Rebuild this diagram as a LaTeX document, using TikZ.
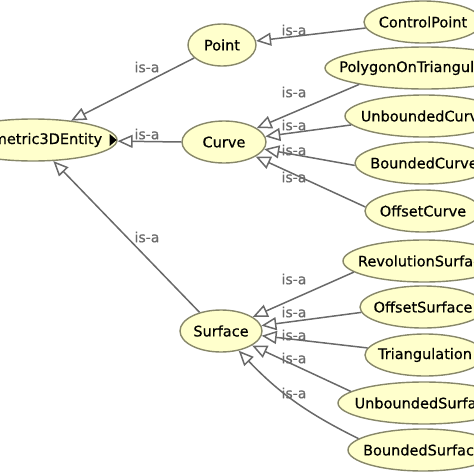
\documentclass[tikz,border=0pt]{standalone}
\usepackage{fontspec}
\setmainfont[FakeBold=0.6]{DejaVu Sans}
\usetikzlibrary{arrows.meta, shapes.geometric}
\definecolor{clsfill}{RGB}{255,255,204}
\definecolor{clsline}{RGB}{135,135,105}
\definecolor{edgegray}{RGB}{105,105,105}
\newcommand{\cname}[1]{\makebox[0pt]{#1}}

\begin{document}
\begin{tikzpicture}[x=1pt, y=-1pt,
    cls/.style={ellipse, draw=clsline, fill=clsfill, line width=1.4pt, inner sep=0pt, minimum height=42pt, minimum width=#1, font=\fontsize{14.5}{16}\selectfont},
    isa/.style={draw=edgegray, line width=1.5pt, -{Triangle[length=15pt, width=13pt, fill=white]}},
    lab/.style={font=\fontsize{14}{16}\selectfont, text=edgegray, inner sep=0pt}
]
    \useasboundingbox (0,0) rectangle (474,474);
    \clip (0,0) rectangle (474,474);

    % Root and first level
    \node[cls=168pt] (geo) at (33,140) {\cname{Geometric3DEntity}};
    \node[cls=68pt] (point) at (222,45) {\cname{Point}};
    \node[cls=84pt] (curve) at (224,142) {\cname{Curve}};
    \node[cls=82pt] (surface) at (221,331) {\cname{Surface}};
    \fill ([xshift=-1pt]geo.east) -- ++(-7,-6) -- ++(0,12) -- cycle;

    % Subclasses of Point and Curve
    \node[cls=118pt] (ctrlpt) at (423,22) {\cname{ControlPoint}};
    \node[cls=200pt] (polytri) at (425,68) {\cname{PolygonOnTriangulation}};
    \node[cls=158pt] (unbcurve) at (424,116) {\cname{UnboundedCurve}};
    \node[cls=138pt] (bndcurve) at (424,163) {\cname{BoundedCurve}};
    \node[cls=116pt] (offcurve) at (423,211) {\cname{OffsetCurve}};

    % Subclasses of Surface
    \node[cls=162pt] (revsurf) at (424,261) {\cname{RevolutionSurface}};
    \node[cls=126pt] (offsurf) at (423,307) {\cname{OffsetSurface}};
    \node[cls=120pt] (triang) at (425,355) {\cname{Triangulation}};
    \node[cls=172pt] (unbsurf) at (424,403) {\cname{UnboundedSurface}};
    \node[cls=150pt] (bndsurf) at (423,450) {\cname{BoundedSurface}};

    % is-a edges
    \draw[isa] (point.205) -- (geo);
    \draw[isa] (curve.west) -- (geo);
    \draw[isa] (surface.139) -- (geo);
    \draw[isa] (ctrlpt.186) -- (point);
    \draw[isa] (polytri.194) -- (curve);
    \draw[isa] (unbcurve.187) -- (curve);
    \draw[isa] (bndcurve.182) -- (curve);
    \draw[isa] (offcurve.176) -- (curve);
    \draw[isa] (revsurf.189) -- (surface);
    \draw[isa] (offsurf.185) -- (surface);
    \draw[isa] (triang.173) -- (surface);
    \draw[isa] (unbsurf.171) -- (surface);
    \draw[isa] (bndsurf.170) to[bend left=10] (surface);

    % Edge labels
    \node[lab] (lpoint) at (147,67) {is-a};
    \node[lab] (lcurve) at (147,134) {is-a};
    \node[lab] (lsurf) at (147,237) {is-a};
    \node[lab] (lctrl) at (294,30) {is-a};
    \node[lab] (lpoly) at (294,92) {is-a};
    \node[lab] (lunbc) at (294,125) {is-a};
    \node[lab] (lbndc) at (294,150) {is-a};
    \node[lab] (loffc) at (294,177) {is-a};
    \node[lab] (lrev) at (294,279) {is-a};
    \node[lab] (loffs) at (294,312) {is-a};
    \node[lab] (ltri) at (294,335) {is-a};
    \node[lab] (lunbs) at (294,358) {is-a};
    \node[lab] (lbnds) at (294,393) {is-a};
\end{tikzpicture}
\end{document}
